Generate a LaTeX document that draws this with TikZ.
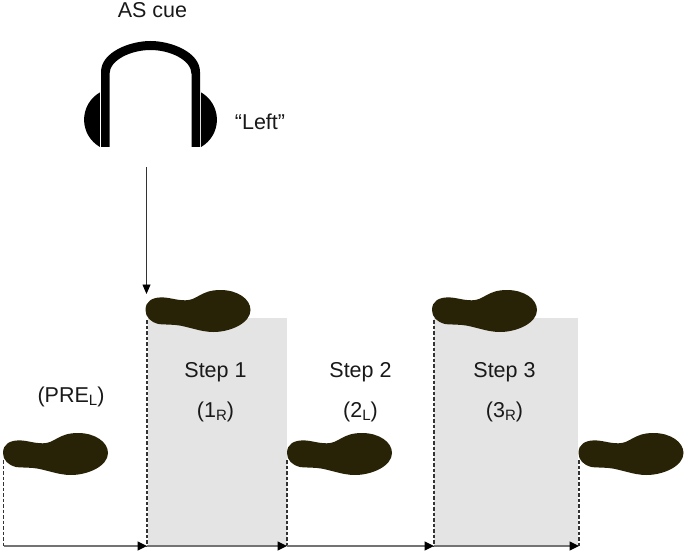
\documentclass[tikz,border=0pt]{standalone}
\usepackage{fontspec}
\setmainfont{Liberation Sans}
\usetikzlibrary{arrows.meta}
\definecolor{footc}{HTML}{282306}
\definecolor{panel}{HTML}{E5E4E5}
\newcommand{\lowtext}[1]{\raisebox{-3.5pt}{\fontsize{15}{15}\selectfont #1}}
\tikzset{
  x=1pt,y=-1pt,
  label text/.style={font=\fontsize{21.5}{25}\selectfont,inner sep=0pt,text=black!90},
  panelbox/.style={fill=panel,draw=none},
  guide/.style={dash pattern=on 3.5pt off 2pt,line width=1.2pt,draw=black!80},
  timeline/.style={line width=1.1pt,draw=black!55,-{Triangle[length=9.5pt,width=9pt,black]},shorten >=0pt},
  cue/.style={line width=0.8pt,draw=black!80,-{Triangle[length=9.5pt,width=8pt,black]}},
  foot/.pic={\fill[footc] (0,20) .. controls (0,11) and (7,7.4) .. (16,7.4)
     .. controls (25,7.4) and (30,10.3) .. (40,10.3)
     .. controls (52,10.3) and (55,0) .. (75,0)
     .. controls (92,0) and (105,9) .. (105,20)
     .. controls (105,33) and (85,42) .. (68,42)
     .. controls (54,42) and (42,36) .. (30,35)
     .. controls (22,34.4) and (16,34.5) .. (13,34)
     .. controls (5,32) and (0,27) .. (0,20) -- cycle;}
}
\begin{document}
\begin{tikzpicture}
\useasboundingbox (0,0) rectangle (685,553);
% panels
\fill[panelbox] (148,318) rectangle (287,546);
\fill[panelbox] (434,318) rectangle (578,546);
% base coordinates
\coordinate (t0) at (3.5,546);
\coordinate (t1) at (147,546);
\coordinate (t2) at (287,546);
\coordinate (t3) at (434,546);
\coordinate (t4) at (579,546);
\coordinate (f0) at (3.5,460);
\coordinate (f1) at (147,320);
\coordinate (f2) at (287,460);
\coordinate (f3) at (434,320);
\coordinate (f4) at (579,460);
\coordinate (cuestart) at (146.5,167);
\coordinate (cueend) at (146.5,294);
% dashed guides
\draw[guide] (f0) -- (t0);
\draw[guide] (f1) -- (t1);
\draw[guide] (f2) -- (t2);
\draw[guide] (f3) -- (t3);
\draw[guide] (f4) -- (t4);
% time arrows
\draw[timeline] (t0) -- (t1);
\draw[timeline] (t1) -- (t2);
\draw[timeline] (t2) -- (t3);
\draw[timeline] (t3) -- (t4);
\draw[cue] (cuestart) -- (cueend);
% feet
\pic at (3,433) {foot};
\pic at (145.5,290) {foot};
\pic at (287,433) {foot};
\pic at (432,290) {foot};
\pic at (578.5,433) {foot};
% headphones
\fill[black] (99.8,92.5) arc[start angle=240,end angle=120,radius=31.4] -- cycle;
\fill[black] (201.2,92.5) arc[start angle=-60,end angle=60,radius=31.4] -- cycle;
\fill[black] (101,147) -- (101,72) .. controls (101,52) and (130,41) .. (150.5,41) .. controls (171,41) and (200,52) .. (200,72) -- (200,147) -- (191.5,147) -- (191.5,74) .. controls (191.5,60) and (170,50) .. (150.5,50) .. controls (131,50) and (109.5,60) .. (109.5,74) -- (109.5,147) -- cycle;
% text
\node[label text,anchor=base] (cuetitle) at (152.5,18) {AS cue};
\node[label text,anchor=base] (left) at (260,129.5) {“Left”};
\node[label text,anchor=base] (pre) at (71,402) {(PRE\lowtext{L})};
\node[label text,anchor=base] (s1) at (215.5,377) {Step 1};
\node[label text,anchor=base] (n1) at (215.5,417) {(1\lowtext{R})};
\node[label text,anchor=base] (s2) at (360.5,377) {Step 2};
\node[label text,anchor=base] (n2) at (360.5,417) {(2\lowtext{L})};
\node[label text,anchor=base] (s3) at (504.5,377) {Step 3};
\node[label text,anchor=base] (n3) at (504.5,417) {(3\lowtext{R})};
\end{tikzpicture}
\end{document}
